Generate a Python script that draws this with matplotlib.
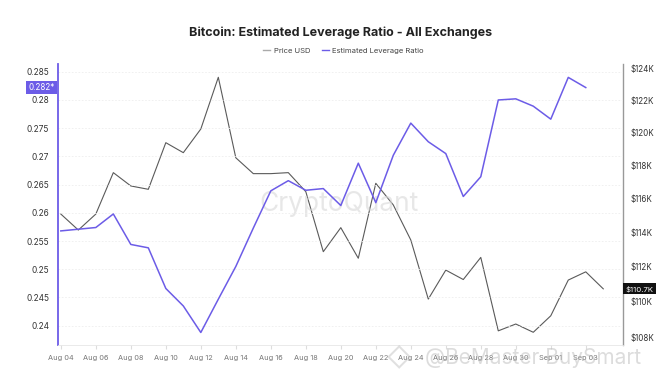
import matplotlib
matplotlib.use("Agg")
import matplotlib.pyplot as plt
import matplotlib.dates as mdates
import matplotlib.transforms as mtransforms
from matplotlib.ticker import FixedLocator, NullLocator, FuncFormatter
import pandas as pd
import numpy as np

plt.rcParams['font.family'] = ['Inter', 'DejaVu Sans']

title = "Bitcoin: Estimated Leverage Ratio - All Exchanges"
start_date = "2025-08-04"

leverage_ratio = [0.2568, 0.2571, 0.2574, 0.2598, 0.2544, 0.2538, 0.2466, 0.2435,
                  0.2388, 0.2447, 0.2505, 0.2573, 0.2639, 0.2657, 0.2640, 0.2643,
                  0.2613, 0.2688, 0.2618, 0.2702, 0.2759, 0.2726, 0.2705, 0.2629,
                  0.2664, 0.2800, 0.2802, 0.2789, 0.2766, 0.2840, 0.2822]

price_usd_k = [115.07, 114.13, 115.07, 117.54, 116.74, 116.54, 119.36, 118.75,
               120.20, 123.43, 118.44, 117.48, 117.48, 117.54, 116.40, 112.87,
               114.27, 112.49, 116.90, 115.61, 113.55, 110.16, 111.81, 111.27,
               112.54, 108.38, 108.76, 108.30, 109.22, 111.24, 111.71, 110.74]

left_ticks = [0.24, 0.245, 0.25, 0.255, 0.26, 0.265, 0.27, 0.275, 0.28, 0.285]
right_ticks = [108, 110, 112, 114, 116, 118, 120, 122, 124]
x_tick_labels = ["Aug 04", "Aug 06", "Aug 08", "Aug 10", "Aug 12", "Aug 14", "Aug 16",
                 "Aug 18", "Aug 20", "Aug 22", "Aug 24", "Aug 26", "Aug 28", "Aug 30",
                 "Sep 01", "Sep 03"]

ratio_dates = pd.date_range(start_date, periods=len(leverage_ratio), freq="D")
price_dates = pd.date_range(start_date, periods=len(price_usd_k), freq="D")

PURPLE = "#6c5ce7"
GRAY = "#5a5a5a"

fig = plt.figure(figsize=(6.71, 3.86), dpi=100)
ax = fig.add_axes([0.0857, 0.105, 0.8423, 0.729])
ax2 = ax.twinx()

ax.plot(ratio_dates, leverage_ratio, color=PURPLE, lw=1.1, zorder=3)
ax2.plot(price_dates, price_usd_k, color=GRAY, lw=0.8, zorder=2)
ax.set_zorder(ax2.get_zorder() + 1)
ax.patch.set_visible(False)

x0 = mdates.date2num(pd.Timestamp(start_date))
ax.set_xlim(x0 - 0.19, x0 + 32.11)
ax.set_ylim(0.2365, 0.28636)
ax2.set_yscale('log')
ax2.set_ylim(107.57, 124.27)

tick_dates = pd.date_range(start_date, periods=len(x_tick_labels), freq="2D")
ax.set_xticks(mdates.date2num(tick_dates))
ax.set_xticklabels(x_tick_labels)
ax.tick_params(axis='x', length=3, color='#dddddd', labelsize=5.3, labelcolor='#777777', pad=4)

ax.yaxis.set_major_locator(FixedLocator(left_ticks))
ax.yaxis.set_major_formatter(FuncFormatter(lambda v, p: f"{v:g}"))
ax.tick_params(axis='y', length=0, labelsize=6, labelcolor='#333333', pad=6)

ax2.yaxis.set_major_locator(FixedLocator(right_ticks))
ax2.yaxis.set_minor_locator(NullLocator())
ax2.yaxis.set_major_formatter(FuncFormatter(lambda v, p: f"${v:.0f}K"))
ax2.tick_params(axis='y', which='both', length=0, labelsize=5.8, labelcolor='#333333', pad=6)

ax.grid(axis='y', color='#eeeeee', lw=0.6, ls=(0, (2, 2)))
ax.grid(axis='x', visible=False)

for a in (ax, ax2):
    for s in ('top', 'left', 'right', 'bottom'):
        a.spines[s].set_visible(False)
ax.spines['left'].set_visible(True)
ax.spines['left'].set_color(PURPLE)
ax.spines['left'].set_linewidth(1.3)
ax2.spines['right'].set_visible(True)
ax2.spines['right'].set_color('#999999')
ax2.spines['right'].set_linewidth(1.0)
ax.spines['bottom'].set_visible(True)
ax.spines['bottom'].set_color('#e6e6e6')
ax.spines['bottom'].set_linewidth(0.6)

# value badges
tl = mtransforms.blended_transform_factory(ax.transAxes, ax.transData)
ax.text(-0.005, leverage_ratio[-1], f"{leverage_ratio[-1]:.3f}*", transform=tl,
        ha='right', va='center', fontsize=5.8, color='white', clip_on=False,
        bbox=dict(boxstyle='square,pad=0.3', fc=PURPLE, ec='none'))
tr = mtransforms.blended_transform_factory(ax2.transAxes, ax2.transData)
ax2.text(1.005, price_usd_k[-1], f"${price_usd_k[-1]:.1f}K", transform=tr,
         ha='left', va='center', fontsize=5.6, color='white', clip_on=False,
         bbox=dict(boxstyle='square,pad=0.3', fc='#111111', ec='none'))

# title and legend
fig.text(0.508, 0.915, title, ha='center', va='center', fontsize=9,
         fontweight='bold', color='#222222')
leg_handles = [plt.Line2D([], [], color='#aaaaaa', lw=1.0),
               plt.Line2D([], [], color=PURPLE, lw=1.0)]
fig.legend(leg_handles, ["Price USD", "Estimated Leverage Ratio"], loc='center',
           bbox_to_anchor=(0.512, 0.868), ncol=2, frameon=False, fontsize=5.5,
           handlelength=0.9, handletextpad=0.5, columnspacing=1.5, labelcolor='#444444')

# watermarks
fig.text(0.505, 0.472, "CryptoQuant", ha='center', va='center', fontsize=19,
         color='#d8d8d8', alpha=0.6, zorder=0)
fig.text(0.795, 0.072, "@BeMaster BuySmart", ha='center', va='center', fontsize=15,
         color='#bbbbbb', alpha=0.5, zorder=10)
fig.text(0.595, 0.072, "\u25c7", ha='center', va='center', fontsize=18,
         color='#bbbbbb', alpha=0.45, zorder=10)

fig.savefig("out.png", dpi=100, facecolor='white')
